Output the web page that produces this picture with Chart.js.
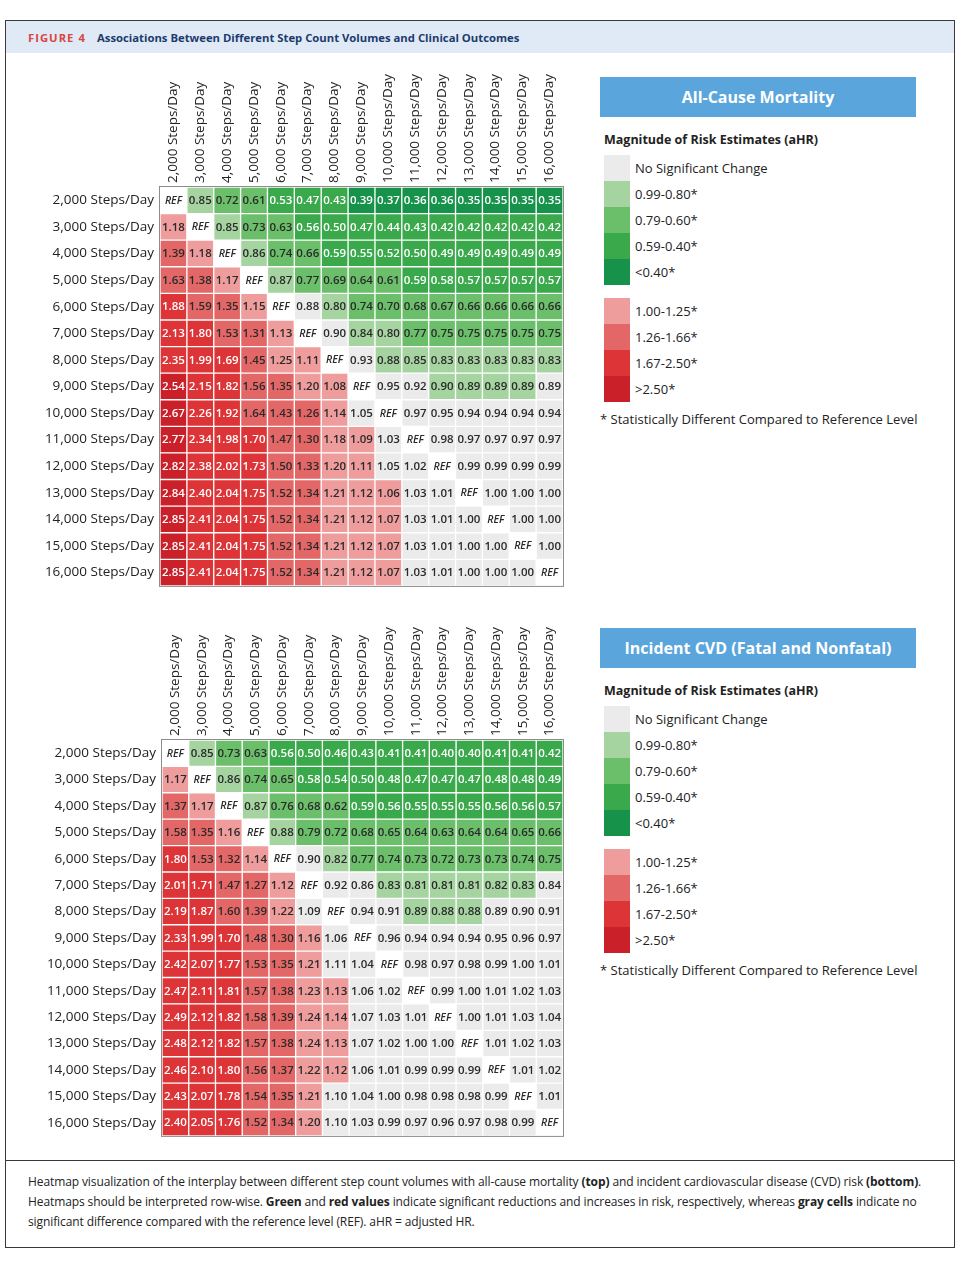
<!DOCTYPE html>
<html>
<head>
<meta charset="utf-8">
<script src="https://cdn.jsdelivr.net/npm/chart.js@4.4.1/dist/chart.umd.min.js"></script>
<style>
  body { margin: 0; background: #fff; font-family: "Open Sans", sans-serif; color: #222; }
  #page { position: relative; width: 964px; height: 1273px; overflow: hidden; }
  .frame { position: absolute; left: 5px; top: 20px; width: 948px; height: 1226px; border: 1.5px solid #3a3a3a; }
  .titlebar { position: absolute; left: 6px; top: 21px; width: 948px; height: 32px; background: #dfeaf6;
    font-size: 11.3px; font-weight: 700; line-height: 33px; }
  .titlebar .fig { position: absolute; left: 22px; color: #d9463f; letter-spacing: 1px; }
  .titlebar .ttl { position: absolute; left: 91px; color: #1d3b6c; }
  .chart-box { position: absolute; left: 20px; width: 560px; height: 540px; }
  .legend { position: absolute; left: 600px; width: 340px; height: 360px; }
  .legend .head { position: absolute; left: 0; top: 0; width: 316px; height: 40px; background: #5aa5dc;
    color: #fff; font-weight: 700; font-size: 16px; line-height: 40px; text-align: center; }
  .legend .sub { position: absolute; left: 4px; top: 54px; font-weight: 700; font-size: 12.5px; }
  .legend .item { position: absolute; left: 4px; width: 300px; height: 26px; }
  .legend .sw { position: absolute; left: 0; top: 0; width: 26px; height: 26px; }
  .legend .lab { position: absolute; left: 31px; top: 0; line-height: 26px; font-size: 13px; }
  .legend .note { position: absolute; left: 0; top: 333px; font-size: 13px; white-space: nowrap; }
  .caption { position: absolute; left: 6px; top: 1160px; width: 948px; border-top: 1.5px solid #3a3a3a;
    padding: 11px 0 0 22px; box-sizing: border-box; font-size: 12px; line-height: 20px; letter-spacing: -0.1px; }
</style>
</head>
<body>
<div id="page">
  <div class="frame"></div>
  <div class="titlebar"><span class="fig">FIGURE 4</span><span class="ttl">Associations Between Different Step Count Volumes and Clinical Outcomes</span></div>

  <div class="chart-box" style="top:60px"><canvas id="mortalityChart" width="560" height="540"></canvas></div>
  <div class="legend" id="legendTop" style="top:77px"></div>

  <div class="chart-box" style="top:610px"><canvas id="cvdChart" width="560" height="540"></canvas></div>
  <div class="legend" id="legendBottom" style="top:628px"></div>

  <div class="caption">
    Heatmap visualization of the interplay between different step count volumes with all-cause mortality <b>(top)</b> and incident cardiovascular disease (CVD) risk <b>(bottom)</b>.<br>
    Heatmaps should be interpreted row-wise. <b>Green</b> and <b>red values</b> indicate significant reductions and increases in risk, respectively, whereas <b>gray cells</b> indicate no<br>
    significant difference compared with the reference level (REF). aHR = adjusted HR.
  </div>
</div>

<script>
// step levels, used for rows and for columns
const stepLabels = [
  "2,000 Steps/Day", "3,000 Steps/Day", "4,000 Steps/Day", "5,000 Steps/Day", "6,000 Steps/Day",
  "7,000 Steps/Day", "8,000 Steps/Day", "9,000 Steps/Day", "10,000 Steps/Day", "11,000 Steps/Day",
  "12,000 Steps/Day", "13,000 Steps/Day", "14,000 Steps/Day", "15,000 Steps/Day", "16,000 Steps/Day"
];

// all-cause mortality aHR, one row per reference level (null = REF)
const mortalityValues = [
  [null, 0.85, 0.72, 0.61, 0.53, 0.47, 0.43, 0.39, 0.37, 0.36, 0.36, 0.35, 0.35, 0.35, 0.35],
  [1.18, null, 0.85, 0.73, 0.63, 0.56, 0.50, 0.47, 0.44, 0.43, 0.42, 0.42, 0.42, 0.42, 0.42],
  [1.39, 1.18, null, 0.86, 0.74, 0.66, 0.59, 0.55, 0.52, 0.50, 0.49, 0.49, 0.49, 0.49, 0.49],
  [1.63, 1.38, 1.17, null, 0.87, 0.77, 0.69, 0.64, 0.61, 0.59, 0.58, 0.57, 0.57, 0.57, 0.57],
  [1.88, 1.59, 1.35, 1.15, null, 0.88, 0.80, 0.74, 0.70, 0.68, 0.67, 0.66, 0.66, 0.66, 0.66],
  [2.13, 1.80, 1.53, 1.31, 1.13, null, 0.90, 0.84, 0.80, 0.77, 0.75, 0.75, 0.75, 0.75, 0.75],
  [2.35, 1.99, 1.69, 1.45, 1.25, 1.11, null, 0.93, 0.88, 0.85, 0.83, 0.83, 0.83, 0.83, 0.83],
  [2.54, 2.15, 1.82, 1.56, 1.35, 1.20, 1.08, null, 0.95, 0.92, 0.90, 0.89, 0.89, 0.89, 0.89],
  [2.67, 2.26, 1.92, 1.64, 1.43, 1.26, 1.14, 1.05, null, 0.97, 0.95, 0.94, 0.94, 0.94, 0.94],
  [2.77, 2.34, 1.98, 1.70, 1.47, 1.30, 1.18, 1.09, 1.03, null, 0.98, 0.97, 0.97, 0.97, 0.97],
  [2.82, 2.38, 2.02, 1.73, 1.50, 1.33, 1.20, 1.11, 1.05, 1.02, null, 0.99, 0.99, 0.99, 0.99],
  [2.84, 2.40, 2.04, 1.75, 1.52, 1.34, 1.21, 1.12, 1.06, 1.03, 1.01, null, 1.00, 1.00, 1.00],
  [2.85, 2.41, 2.04, 1.75, 1.52, 1.34, 1.21, 1.12, 1.07, 1.03, 1.01, 1.00, null, 1.00, 1.00],
  [2.85, 2.41, 2.04, 1.75, 1.52, 1.34, 1.21, 1.12, 1.07, 1.03, 1.01, 1.00, 1.00, null, 1.00],
  [2.85, 2.41, 2.04, 1.75, 1.52, 1.34, 1.21, 1.12, 1.07, 1.03, 1.01, 1.00, 1.00, 1.00, null]
];
// 1 = statistically different from REF, 0 = gray cell
const mortalitySig = [
  "011111111111111", "101111111111111", "110111111111111", "111011111111111", "111110111111111",
  "111111011111111", "111111101111111", "111111110011110", "111111100000000", "111111110000000",
  "111111110000000", "111111111000000", "111111111000000", "111111111000000", "111111111000000"
];

// incident CVD aHR
const cvdValues = [
  [null, 0.85, 0.73, 0.63, 0.56, 0.50, 0.46, 0.43, 0.41, 0.41, 0.40, 0.40, 0.41, 0.41, 0.42],
  [1.17, null, 0.86, 0.74, 0.65, 0.58, 0.54, 0.50, 0.48, 0.47, 0.47, 0.47, 0.48, 0.48, 0.49],
  [1.37, 1.17, null, 0.87, 0.76, 0.68, 0.62, 0.59, 0.56, 0.55, 0.55, 0.55, 0.56, 0.56, 0.57],
  [1.58, 1.35, 1.16, null, 0.88, 0.79, 0.72, 0.68, 0.65, 0.64, 0.63, 0.64, 0.64, 0.65, 0.66],
  [1.80, 1.53, 1.32, 1.14, null, 0.90, 0.82, 0.77, 0.74, 0.73, 0.72, 0.73, 0.73, 0.74, 0.75],
  [2.01, 1.71, 1.47, 1.27, 1.12, null, 0.92, 0.86, 0.83, 0.81, 0.81, 0.81, 0.82, 0.83, 0.84],
  [2.19, 1.87, 1.60, 1.39, 1.22, 1.09, null, 0.94, 0.91, 0.89, 0.88, 0.88, 0.89, 0.90, 0.91],
  [2.33, 1.99, 1.70, 1.48, 1.30, 1.16, 1.06, null, 0.96, 0.94, 0.94, 0.94, 0.95, 0.96, 0.97],
  [2.42, 2.07, 1.77, 1.53, 1.35, 1.21, 1.11, 1.04, null, 0.98, 0.97, 0.98, 0.99, 1.00, 1.01],
  [2.47, 2.11, 1.81, 1.57, 1.38, 1.23, 1.13, 1.06, 1.02, null, 0.99, 1.00, 1.01, 1.02, 1.03],
  [2.49, 2.12, 1.82, 1.58, 1.39, 1.24, 1.14, 1.07, 1.03, 1.01, null, 1.00, 1.01, 1.03, 1.04],
  [2.48, 2.12, 1.82, 1.57, 1.38, 1.24, 1.13, 1.07, 1.02, 1.00, 1.00, null, 1.01, 1.02, 1.03],
  [2.46, 2.10, 1.80, 1.56, 1.37, 1.22, 1.12, 1.06, 1.01, 0.99, 0.99, 0.99, null, 1.01, 1.02],
  [2.43, 2.07, 1.78, 1.54, 1.35, 1.21, 1.10, 1.04, 1.00, 0.98, 0.98, 0.98, 0.99, null, 1.01],
  [2.40, 2.05, 1.76, 1.52, 1.34, 1.20, 1.10, 1.03, 0.99, 0.97, 0.96, 0.97, 0.98, 0.99, null]
];
const cvdSig = [
  "011111111111111", "101111111111111", "110111111111111", "111011111111111", "111110111111111",
  "111110001111110", "111110000111000", "111111000000000", "111111000000000", "111111100000000",
  "111111100000000", "111111100000000", "111111100000000", "111111000000000", "111111000000000"
];

// legend
const legendLabels = ["No Significant Change", "0.99-0.80*", "0.79-0.60*", "0.59-0.40*", "<0.40*",
  "1.00-1.25*", "1.26-1.66*", "1.67-2.50*", ">2.50*"];
const legendColors = ["#ebebeb", "#a5d4a1", "#6bbf6b", "#3aa94b", "#17924a",
  "#ee9c9c", "#e46767", "#dd3437", "#c9202a"];

function cellColor(v, sig) {
  if (v === null) return "#ffffff";
  if (!sig) return legendColors[0];
  if (v < 1) {
    if (v >= 0.8) return legendColors[1];
    if (v >= 0.6) return legendColors[2];
    if (v >= 0.4) return legendColors[3];
    return legendColors[4];
  }
  if (v <= 1.25) return legendColors[5];
  if (v <= 1.66) return legendColors[6];
  if (v <= 2.5) return legendColors[7];
  return legendColors[8];
}

function textColor(v, sig) {
  if (v === null || !sig) return "#2a2a2a";
  if (v < 0.6 || v > 1.66) return "#ffffff";
  return "#2a2a2a";
}

const cellText = {
  id: "cellText",
  afterDatasetsDraw(chart) {
    const ctx = chart.ctx;
    ctx.save();
    ctx.textAlign = "center";
    ctx.textBaseline = "middle";
    chart.data.datasets.forEach((ds, j) => {
      chart.getDatasetMeta(j).data.forEach((bar, i) => {
        const v = ds.cellValues[i];
        const cx = (bar.x + bar.base) / 2;
        if (v === null) {
          ctx.font = "italic 600 10.5px 'Open Sans'";
          ctx.fillStyle = "#2a2a2a";
          ctx.fillText("REF", cx, bar.y + 0.5);
        } else {
          ctx.font = "600 11.5px 'Open Sans'";
          ctx.fillStyle = textColor(v, ds.cellSig[i]);
          ctx.fillText(v.toFixed(2), cx, bar.y + 0.5);
        }
      });
    });
    // thin frame round the grid
    const a = chart.chartArea;
    ctx.strokeStyle = "#8c8c8c";
    ctx.lineWidth = 1;
    ctx.strokeRect(a.left - 0.5, a.top - 0.5, a.right - a.left + 1, a.bottom - a.top + 1);
    ctx.restore();
  }
};

function buildHeatmap(canvasId, values, sig, leftWidth, topHeight) {
  const datasets = stepLabels.map((col, j) => ({
    label: col,
    data: stepLabels.map(() => 1),
    cellValues: values.map((row) => row[j]),
    cellSig: sig.map((row) => row[j] === "1"),
    backgroundColor: values.map((row, i) => cellColor(row[j], sig[i][j] === "1")),
    borderColor: "#ffffff",
    borderWidth: 1,
    borderSkipped: false,
    barPercentage: 1,
    categoryPercentage: 1,
  }));

  return new Chart(document.getElementById(canvasId), {
    type: "bar",
    data: { labels: stepLabels, datasets },
    plugins: [cellText],
    options: {
      indexAxis: "y",
      responsive: false,
      animation: false,
      events: [],
      layout: { padding: { left: 0, right: 17, top: 0, bottom: 10 } },
      plugins: { legend: { display: false }, tooltip: { enabled: false } },
      scales: {
        x: { type: "linear", stacked: true, min: 0, max: stepLabels.length, display: false },
        x2: {
          type: "category",
          labels: stepLabels,
          position: "top",
          offset: true,
          grid: { display: false, drawTicks: false },
          border: { display: false },
          ticks: {
            autoSkip: false, minRotation: 90, maxRotation: 90, padding: 4, labelOffset: 16,
            color: "#222", font: { family: "Open Sans", size: 13.5 },
          },
          afterFit: (s) => { s.height = topHeight; },
        },
        y: {
          type: "category",
          stacked: true,
          grid: { display: false, drawTicks: false },
          border: { display: false },
          ticks: {
            autoSkip: false, padding: 6,
            color: "#222", font: { family: "Open Sans", size: 13.5 },
          },
          afterFit: (s) => { s.width = leftWidth; },
        },
      },
    },
  });
}

function buildLegend(id, title) {
  const el = document.getElementById(id);
  let html = `<div class="head">${title}</div><div class="sub">Magnitude of Risk Estimates (aHR)</div>`;
  legendLabels.forEach((lab, k) => {
    const top = k < 5 ? 78 + k * 26 : 221 + (k - 5) * 26;
    html += `<div class="item" style="top:${top}px"><div class="sw" style="background:${legendColors[k]}"></div><div class="lab">${lab}</div></div>`;
  });
  html += `<div class="note">* Statistically Different Compared to Reference Level</div>`;
  el.innerHTML = html;
}

buildLegend("legendTop", "All-Cause Mortality");
buildLegend("legendBottom", "Incident CVD (Fatal and Nonfatal)");
buildHeatmap("mortalityChart", mortalityValues, mortalitySig, 140, 127);
buildHeatmap("cvdChart", cvdValues, cvdSig, 142, 130);
</script>
</body>
</html>
